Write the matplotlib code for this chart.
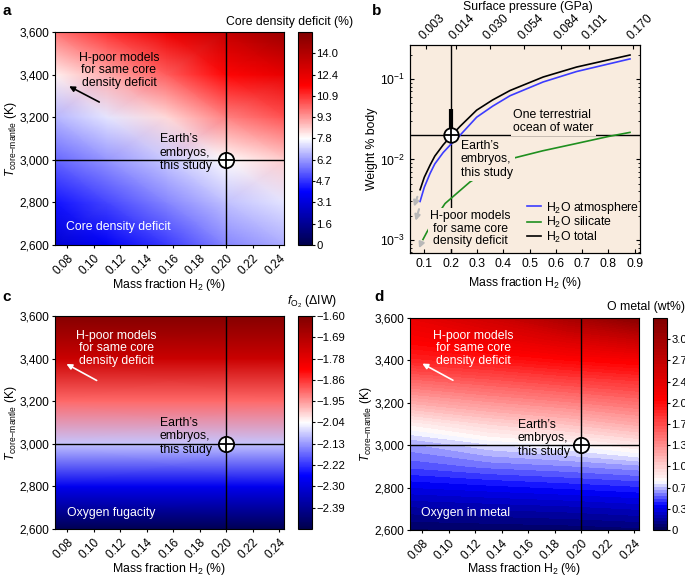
import numpy as np
import matplotlib
matplotlib.use('Agg')
import matplotlib.pyplot as plt
from matplotlib.colors import TwoSlopeNorm

plt.rcParams['font.family'] = ['Liberation Sans', 'DejaVu Sans']
plt.rcParams['mathtext.fontset'] = 'custom'
plt.rcParams['mathtext.rm'] = 'Liberation Sans'
plt.rcParams['mathtext.it'] = 'Liberation Sans:italic'
plt.rcParams['mathtext.bf'] = 'Liberation Sans:bold'
plt.rcParams['font.size'] = 8.7
FS = 8.8

# ---- data ----
# shared axes of the heat maps
x_ticks = [0.08, 0.10, 0.12, 0.14, 0.16, 0.18, 0.20, 0.22, 0.24]
x_ticklabels = ['0.08', '0.10', '0.12', '0.14', '0.16', '0.18', '0.20', '0.22', '0.24']
t_ticks = [2600, 2800, 3000, 3200, 3400, 3600]
t_ticklabels = ['2,600', '2,800', '3,000', '3,200', '3,400', '3,600']

# panel a: core density deficit (%) on a coarse grid (rows = T, cols = H2)
mass_h2_a = [0.07, 0.11, 0.155, 0.20, 0.245]
t_cmb_a = [2600, 2800, 3000, 3200, 3400, 3600]
density_deficit = [
    [2.94, 3.76, 4.75, 5.90, 6.50],
    [4.18, 4.96, 5.90, 6.85, 7.35],
    [5.42, 6.16, 6.97, 7.78, 8.54],
    [6.66, 7.36, 8.35, 9.68, 10.44],
    [7.97, 9.02, 10.25, 11.58, 12.34],
    [9.87, 10.92, 12.15, 13.48, 14.80],
]
cbar_a_labels = ['0', '1.6', '3.1', '4.7', '6.2', '7.8', '9.3', '10.9', '12.4', '14.0']
cbar_a_max = 15.55

# panel c: oxygen fugacity, depends on T only
t_cmb_c = [2600, 2800, 3000, 3200, 3400, 3600]
fo2 = [-2.47, -2.28, -2.09, -1.91, -1.73, -1.61]
cbar_c_labels = ['-1.60', '-1.69', '-1.78', '-1.86', '-1.95', '-2.04',
                 '-2.13', '-2.22', '-2.30', '-2.39']
cbar_c_range = (-2.48, -1.60)

# panel d: O in metal (wt%)
mass_h2_d = [0.07, 0.13, 0.19, 0.245]
t_cmb_d = [2600, 2700, 2800, 2900, 3000, 3100, 3200, 3300, 3400, 3500, 3600]
o_metal = [
    [0.04, 0.05, 0.06, 0.08],
    [0.18, 0.20, 0.22, 0.25],
    [0.34, 0.37, 0.40, 0.43],
    [0.50, 0.55, 0.58, 0.62],
    [0.62, 0.72, 0.78, 0.88],
    [0.84, 0.98, 1.08, 1.20],
    [1.18, 1.30, 1.40, 1.50],
    [1.52, 1.62, 1.72, 1.80],
    [1.88, 1.95, 2.05, 2.12],
    [2.10, 2.25, 2.45, 2.65],
    [2.30, 2.55, 2.95, 3.30],
]
cbar_d_labels = ['0', '0.3', '0.7', '1.0', '1.3', '1.7', '2.0', '2.4', '2.7', '3.0']
cbar_d_max = 3.37
cbar_d_center = 0.77

# panel b: water budget vs H2 mass fraction
h2_b = [0.084, 0.10, 0.122, 0.14, 0.172, 0.204, 0.236, 0.299, 0.36, 0.426, 0.552, 0.679, 0.882]
h2o_total = [0.0042, 0.0060, 0.0085, 0.0110, 0.0152, 0.0200, 0.0258, 0.041, 0.055,
             0.072, 0.106, 0.141, 0.199]
h2o_atm = [0.0030, 0.0045, 0.0067, 0.0088, 0.0122, 0.0158, 0.0200, 0.0335, 0.046,
           0.062, 0.092, 0.124, 0.178]
h2_sil = [0.095, 0.11, 0.134, 0.179, 0.274, 0.36, 0.445, 0.55, 0.679, 0.80, 0.882]
h2o_sil = [0.00101, 0.00125, 0.0017, 0.00283, 0.00526, 0.0078, 0.0105, 0.0128,
           0.0158, 0.0193, 0.0217]
ocean = 0.02
study_h2 = 0.20
study_t = 3000
pressure_pos = [0.105, 0.22, 0.35, 0.48, 0.62, 0.725, 0.895]
pressure_labels = ['0.003', '0.014', '0.030', '0.054', '0.084', '0.101', '0.170']
grey_arrows = [((0.077, 0.0037), (0.058, 0.0024)),
               ((0.083, 0.0026), (0.064, 0.0016)),
               ((0.094, 0.00101), (0.076, 0.00073))]

XLIM = (0.0707, 0.2437)
fig = plt.figure(figsize=(6.85, 5.77), dpi=100)


def decorate(ax, arrow, hpoor_xy, earth_xy, label_xy, label, col):
    ax.set_xlim(XLIM)
    ax.set_ylim(2600, 3600)
    ax.axhline(study_t, color='k', lw=1)
    ax.axvline(study_h2, color='k', lw=1)
    ax.plot(study_h2, study_t, 'o', ms=11, mfc='white', mec='k', mew=1.3, zorder=5)
    ax.plot(study_h2, study_t, '+', ms=11, color='k', mew=1.3, zorder=6)
    ax.set_xticks(x_ticks)
    ax.set_xticklabels(x_ticklabels, rotation=45, ha='right', rotation_mode='anchor')
    ax.set_yticks(t_ticks)
    ax.set_yticklabels(t_ticklabels)
    ax.tick_params(length=2.5, labelsize=8.6)
    ax.tick_params(axis='x', pad=2.5)
    ax.tick_params(axis='y', pad=1.5)
    ax.set_xlabel('Mass fraction H$_2$ (%)', fontsize=FS, va='center')
    ax.xaxis.set_label_coords(0.5, -0.186)
    ax.set_ylabel(r'$T_{\rm core–mantle}$ (K)', fontsize=FS, va='center')
    ax.yaxis.set_label_coords(-0.19, 0.5)
    ax.annotate('', xy=arrow[1], xytext=arrow[0],
                arrowprops=dict(arrowstyle='-|>', color=col, lw=1.2, mutation_scale=8))
    ax.text(hpoor_xy[0], hpoor_xy[1], 'H-poor models\nfor same core\ndensity deficit',
            ha='center', va='center', color=col, fontsize=FS, linespacing=1.05)
    ax.text(earth_xy[0], earth_xy[1], 'Earth\u2019s\nembryos,\nthis study',
            ha='left', va='center', color='k', fontsize=FS, linespacing=1.15)
    ax.text(label_xy[0], label_xy[1], label, ha='left', va='center',
            color='white', fontsize=FS)
    for s in ax.spines.values():
        s.set_linewidth(0.8)


def cbar(mappable, cax, ticks, labels):
    cb = fig.colorbar(mappable, cax=cax)
    cb.ax.set_yscale('linear')
    cb.set_ticks(ticks)
    cb.set_ticklabels(labels)
    cb.ax.tick_params(length=2, labelsize=8.1, pad=1)
    cb.outline.set_linewidth(0.8)
    return cb


# ---- a ----
ax = fig.add_axes([0.0803, 0.5754, 0.3343, 0.3692])
cax = fig.add_axes([0.435, 0.5754, 0.0204, 0.3692])
X, Y = np.meshgrid(mass_h2_a, t_cmb_a)
m = ax.pcolormesh(X, Y, np.array(density_deficit), shading='gouraud', cmap='seismic',
                  vmin=0, vmax=cbar_a_max)
decorate(ax, ((0.106, 3265), (0.0795, 3351)), (0.119, 3420), (0.150, 3033),
         (0.079, 2685), 'Core density deficit', 'k')
cbar(m, cax, np.arange(10) * cbar_a_max / 10, cbar_a_labels)
fig.text(0.423, 0.962, 'Core density deficit (%)', ha='center', va='center', fontsize=FS)
fig.text(0.004, 0.981, 'a', fontsize=11, fontweight='bold', va='center')

# ---- c ----
ax = fig.add_axes([0.0803, 0.0832, 0.3343, 0.3692])
cax = fig.add_axes([0.435, 0.0832, 0.0204, 0.3692])
X, Y = np.meshgrid([0.07, 0.245], t_cmb_c)
C = np.column_stack([fo2, fo2])
m = ax.pcolormesh(X, Y, C, shading='gouraud', cmap='seismic',
                  vmin=cbar_c_range[0], vmax=cbar_c_range[1])
decorate(ax, ((0.104, 3291), (0.0775, 3381)), (0.117, 3448), (0.150, 3035),
         (0.0795, 2676), 'Oxygen fugacity', 'white')
cbar(m, cax, cbar_c_range[1] - np.arange(10) * 0.088,
     [s.replace('-', '\u2212') for s in cbar_c_labels])
fig.text(0.455, 0.477, '$f_{\\rm O_2}$ (\u0394IW)', ha='center', va='center', fontsize=FS)
fig.text(0.004, 0.486, 'c', fontsize=11, fontweight='bold', va='center')

# ---- d ----
ax = fig.add_axes([0.5985, 0.0815, 0.3343, 0.3674])
cax = fig.add_axes([0.9533, 0.0815, 0.0204, 0.3674])
X, Y = np.meshgrid(mass_h2_d, t_cmb_d)
norm = TwoSlopeNorm(vmin=0, vcenter=cbar_d_center, vmax=cbar_d_max)
m = ax.contourf(X, Y, np.array(o_metal), levels=np.linspace(0, cbar_d_max, 70),
                cmap='seismic', norm=norm)
decorate(ax, ((0.105, 3300), (0.0782, 3391)), (0.1185, 3457), (0.152, 3032),
         (0.0788, 2682), 'Oxygen in metal', 'white')
cbar(m, cax, np.arange(10) * cbar_d_max / 10, cbar_d_labels)
fig.text(0.943, 0.468, 'O metal (wt%)', ha='center', va='center', fontsize=FS)
fig.text(0.546, 0.486, 'd', fontsize=11, fontweight='bold', va='center')

# ---- b ----
ax = fig.add_axes([0.5985, 0.5610, 0.3358, 0.3610])
ax.set_facecolor('#f9ecdf')
ax.set_yscale('log')
ax.set_xlim(0.0456, 0.92)
ax.set_ylim(6.8e-4, 0.265)
ax.axhline(ocean, color='k', lw=1, zorder=1)
ax.axvline(study_h2, color='k', lw=1, zorder=1)
ax.plot([study_h2, study_h2], [ocean, 0.043], color='k', lw=3, solid_capstyle='butt', zorder=2)
ax.plot(h2_b, h2o_atm, color='#3c3cff', lw=1.2, label='H$_2$O atmosphere', zorder=3)
ax.plot(h2_sil, h2o_sil, color='#1f8f1f', lw=1.2, label='H$_2$O silicate', zorder=3)
ax.plot(h2_b, h2o_total, color='k', lw=1.2, label='H$_2$O total', zorder=3)
for start, end in grey_arrows:
    ax.annotate('', xy=end, xytext=start,
                arrowprops=dict(arrowstyle='-|>', color='#b8b8b8', lw=1.5, mutation_scale=8))
ax.plot(study_h2, ocean, 'o', ms=10.5, mfc='white', mec='k', mew=1.3, zorder=6)
ax.plot(study_h2, ocean, '+', ms=10.5, color='k', mew=1.3, zorder=7)
box = dict(facecolor='#f9ecdf', edgecolor='none', pad=1.5)
ax.text(0.438, 0.0298, 'One terrestrial\nocean of water', ha='left', va='center',
        fontsize=FS, linespacing=1.05, bbox=box, zorder=4)
ax.text(0.238, 0.0100, 'Earth\u2019s\nembryos,\nthis study', ha='left', va='center',
        fontsize=FS, linespacing=1.15, bbox=box, zorder=4)
ax.text(0.274, 0.00138, 'H-poor models\nfor same core\ndensity deficit', ha='center',
        va='center', fontsize=FS, linespacing=1.05, bbox=box, zorder=4)
ax.legend(loc='lower left', bbox_to_anchor=(0.47, 0.0), frameon=False, fontsize=FS,
          handlelength=1.2, handletextpad=0.4, labelspacing=-0.05, borderpad=0.2)
ax.set_xticks([0.1, 0.2, 0.3, 0.4, 0.5, 0.6, 0.7, 0.8, 0.9])
ax.set_xticklabels(['0.1', '0.2', '0.3', '0.4', '0.5', '0.6', '0.7', '0.8', '0.9'])
ax.tick_params(which='both', direction='in', right=True, labelsize=FS)
ax.tick_params(which='major', length=3)
ax.tick_params(which='minor', length=1.5)
ax.set_xlabel('Mass fraction H$_2$ (%)', fontsize=FS, va='center')
ax.xaxis.set_label_coords(0.5, -0.144)
ax.set_ylabel('Weight % body', fontsize=FS, va='center')
ax.yaxis.set_label_coords(-0.167, 0.5)
top = ax.twiny()
top.set_xlim(ax.get_xlim())
top.set_xticks(pressure_pos)
top.set_xticklabels(pressure_labels, rotation=45, ha='left', rotation_mode='anchor')
top.tick_params(direction='in', length=3, labelsize=FS, pad=2)
for s in list(ax.spines.values()) + list(top.spines.values()):
    s.set_linewidth(0.8)
fig.text(0.770, 0.988, 'Surface pressure (GPa)', ha='center', va='center', fontsize=FS)
fig.text(0.543, 0.981, 'b', fontsize=11, fontweight='bold', va='center')

fig.savefig('out.png', dpi=100)
